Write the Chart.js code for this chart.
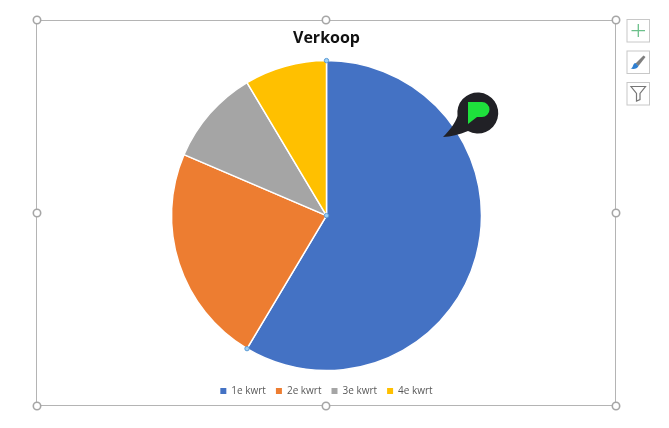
<!DOCTYPE html>
<html>
<head>
<meta charset="utf-8">
<title>Verkoop</title>
<script src="https://cdn.jsdelivr.net/npm/chart.js@4"></script>
<style>
  html, body { margin: 0; padding: 0; background: #fff; width: 669px; height: 428px; overflow: hidden; }
  #wrap { position: absolute; left: 37px; top: 20px; width: 579px; height: 386px; }
  #chrome { position: absolute; left: 0; top: 0; pointer-events: none; }
</style>
</head>
<body>
<div id="wrap"><canvas id="pie" width="579" height="386"></canvas></div>
<!-- Excel selection frame, side buttons and the callout on top of the chart -->
<svg id="chrome" width="669" height="428" xmlns="http://www.w3.org/2000/svg">
  <rect x="36.5" y="20.5" width="579" height="385" fill="none" stroke="#b4b4b4" stroke-width="1"/>
  <g fill="#fff" stroke="#a6a6a6" stroke-width="1.6">
    <circle cx="37" cy="20" r="3.7"/><circle cx="326" cy="20" r="3.7"/><circle cx="616" cy="20" r="3.7"/>
    <circle cx="37" cy="213" r="3.7"/><circle cx="616" cy="213" r="3.7"/>
    <circle cx="37" cy="406" r="3.7"/><circle cx="326" cy="406" r="3.7"/><circle cx="616" cy="406" r="3.7"/>
  </g>
  <g fill="#fff" stroke="#c8c8c8" stroke-width="1">
    <rect x="627" y="19.5" width="22.5" height="22.5"/>
    <rect x="627" y="51" width="22.5" height="22.5"/>
    <rect x="627" y="82.5" width="22.5" height="22.5"/>
  </g>
  <path d="M638.3 24v13M631.5 30.7h13.5" stroke="#6cc08b" stroke-width="1.3" fill="none"/>
  <path d="M635.5 63.5L643.500 55.500L645.500 57L638.5 66Z" fill="#7f7f7f"/>
  <path d="M630.5 68.500C633.500 68 632.500 63.500 635.500 63L638.500 66C637.500 68.500 634 69.500 630.5 68.500Z" fill="#2f7fd0"/>
  <path d="M631 86.500h14.500l-5.500 7v6l-3.500 1.500v-7.500Z" fill="none" stroke="#767676" stroke-width="1.2"/>
  <path d="M443 137C449 131 455 124 457.500 116A20.500 20.500 0 1 1 468 131C459 135 451 136.500 443 137Z" fill="#212126"/>
  <path d="M468 102H482A7.500 7.500 0 0 1 482 117H477L468 124Z" fill="#1ee13c"/>
</svg>
<script>
// --- Verkoop pie chart ---
const categories = ['1e kwrt', '2e kwrt', '3e kwrt', '4e kwrt'];
const sales = [8.2, 3.2, 1.4, 1.2];
const sliceColors = ['#4472C4', '#ED7D31', '#A5A5A5', '#FFC000'];

// small blue selection dots on the first slice (top, centre, end of arc)
const sliceDots = {
    id: 'sliceDots',
    afterDatasetsDraw(chart) {
        const arc = chart.getDatasetMeta(0).data[0];
        const c = chart.ctx;
        const spots = [
            [arc.x, arc.y],
            [arc.x + arc.outerRadius * Math.cos(arc.startAngle), arc.y + arc.outerRadius * Math.sin(arc.startAngle)],
            [arc.x + arc.outerRadius * Math.cos(arc.endAngle), arc.y + arc.outerRadius * Math.sin(arc.endAngle)]
        ];
        c.save();
        spots.forEach(p => {
            c.beginPath();
            c.arc(p[0], p[1], 2.2, 0, Math.PI * 2);
            c.fillStyle = '#9fd0f5';
            c.strokeStyle = '#5b9bd5';
            c.lineWidth = 1;
            c.fill();
            c.stroke();
        });
        c.restore();
    }
};

new Chart(document.getElementById('pie').getContext('2d'), {
    type: 'pie',
    data: {
        labels: categories,
        datasets: [{
            data: sales,
            backgroundColor: sliceColors,
            borderColor: '#fff',
            borderWidth: 1.5,
            radius: 155
        }]
    },
    options: {
        responsive: false,
        animation: false,
        layout: { padding: { top: 9, bottom: 0 } },
        plugins: {
            title: {
                display: true,
                text: 'Verkoop',
                color: '#111',
                font: { family: 'Open Sans', size: 16, weight: 'bold' },
                padding: { top: 0, bottom: 7 }
            },
            legend: {
                position: 'bottom',
                labels: {
                    boxWidth: 6,
                    boxHeight: 6,
                    padding: 10,
                    color: '#595959',
                    font: { family: 'Open Sans', size: 10 },
                    // no white edge on the legend squares
                    generateLabels: chart => Chart.overrides.pie.plugins.legend.labels
                        .generateLabels(chart).map(l => ({ ...l, lineWidth: 0 }))
                }
            },
            tooltip: { enabled: false }
        }
    },
    plugins: [sliceDots]
});
</script>
</body>
</html>
